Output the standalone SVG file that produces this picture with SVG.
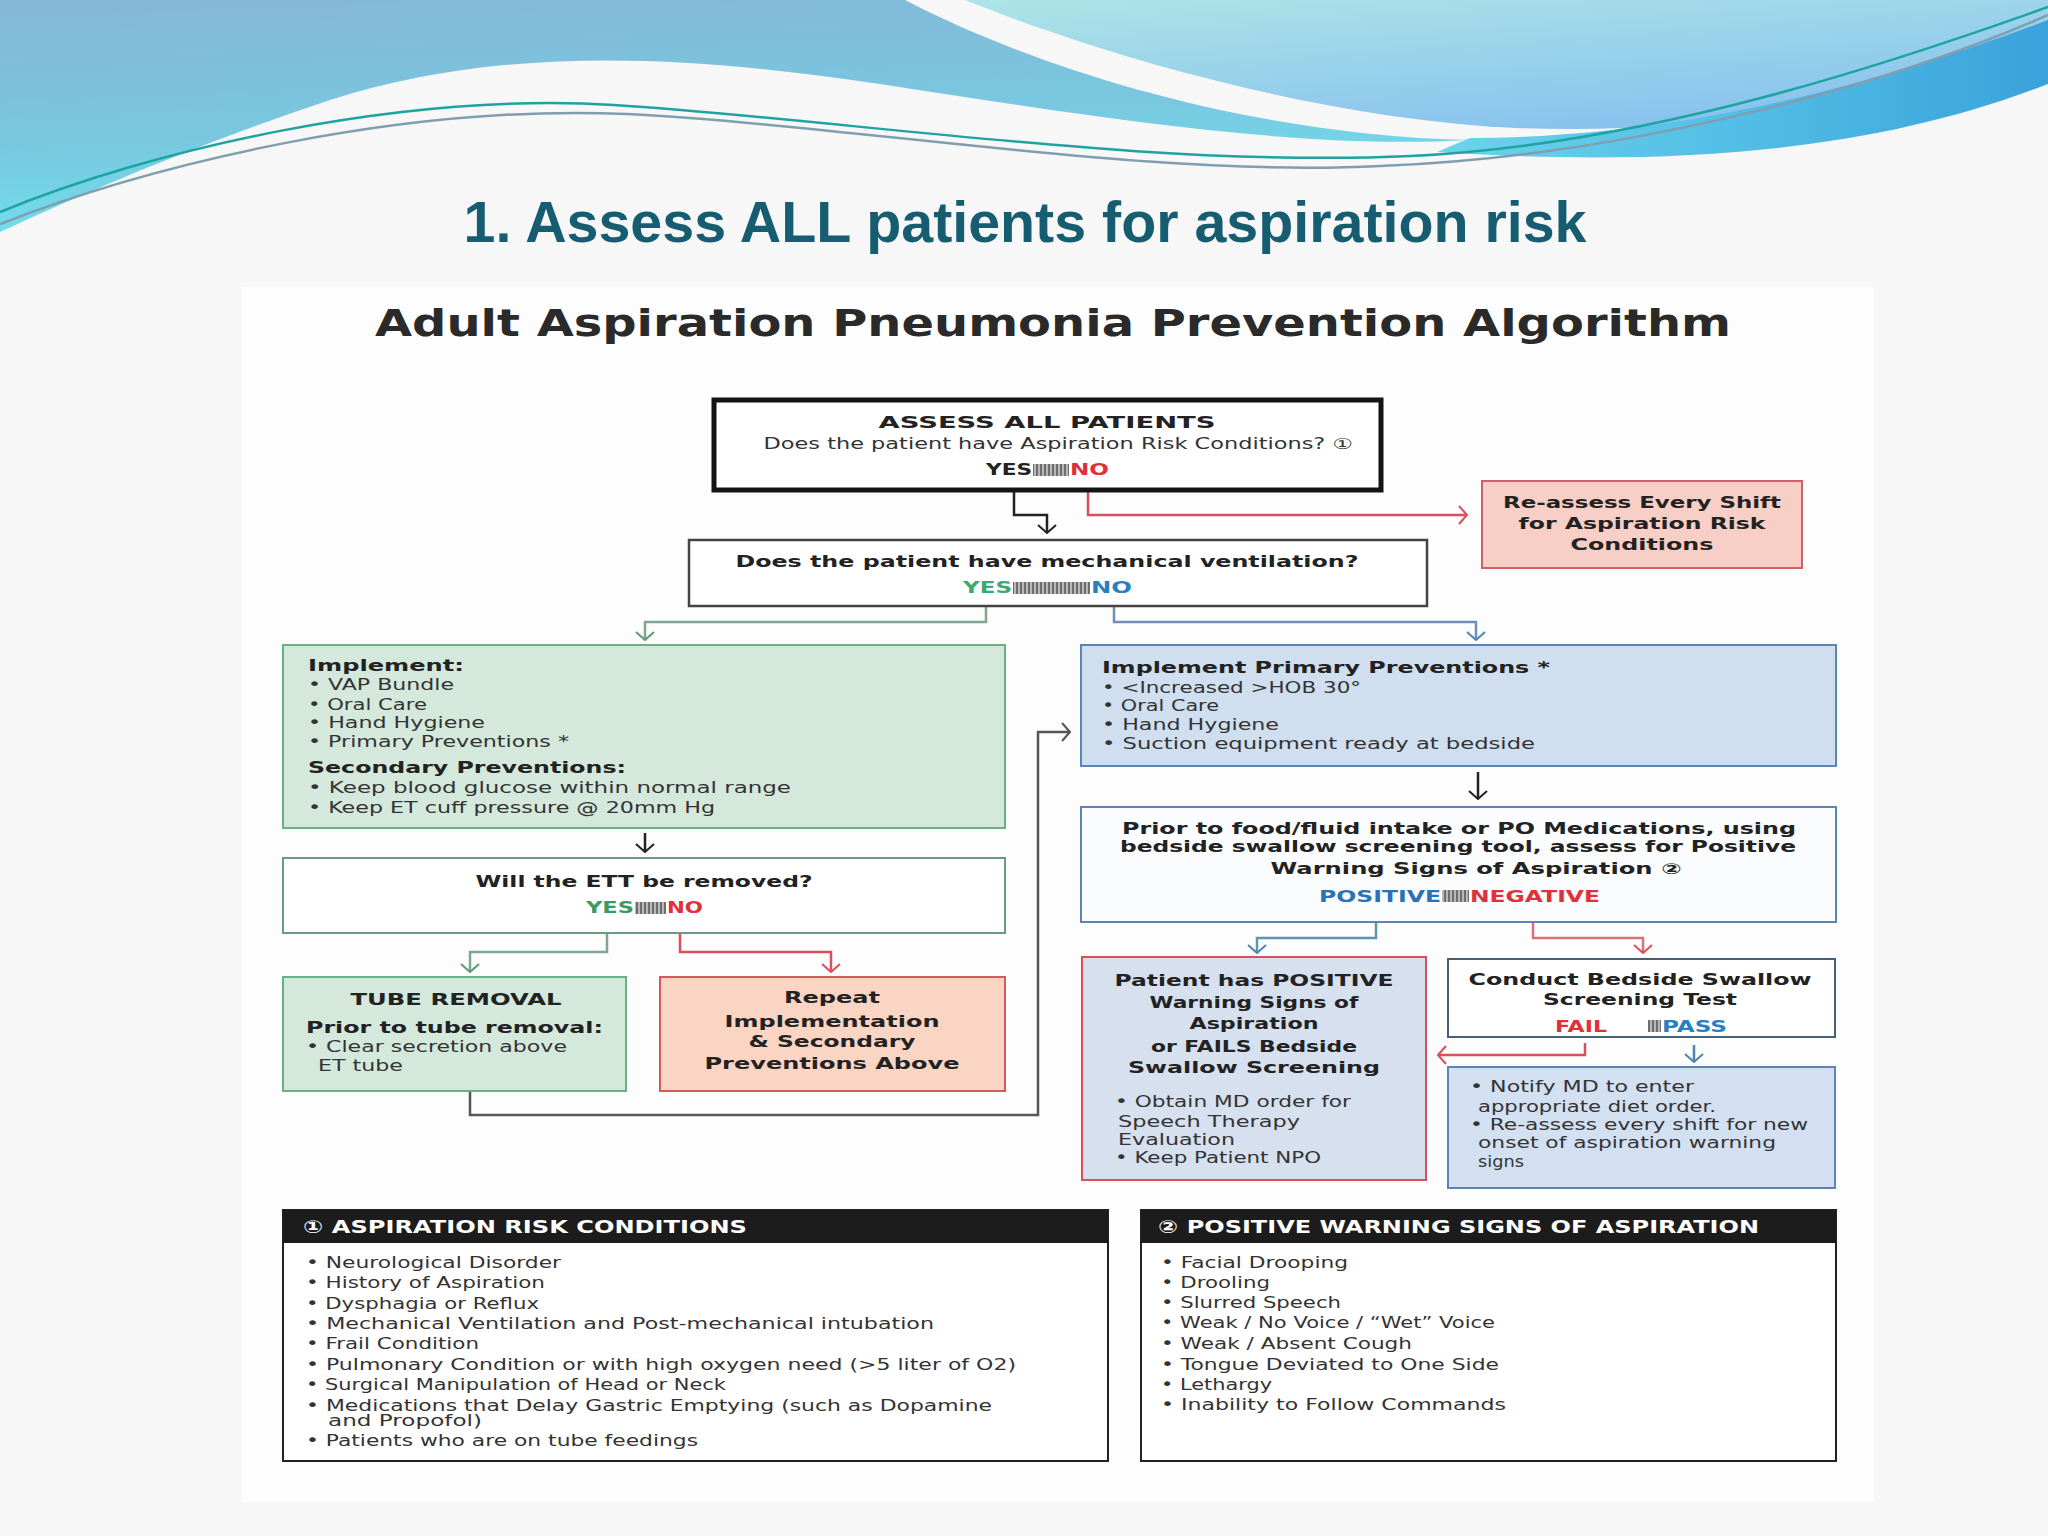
<svg xmlns="http://www.w3.org/2000/svg" width="2048" height="1536" viewBox="0 0 2048 1536">
<defs>
<style>
.t{font-family:"DejaVu Sans","Liberation Sans",sans-serif;font-size:15px;fill:#333333}
.b{font-weight:bold;fill:#222}
.m{text-anchor:middle}
.w{fill:#ffffff;font-weight:bold;font-size:18px}
.c{fill:none;stroke-width:2.5}
.g{fill:url(#stripes)}
</style>
<pattern id="stripes" patternUnits="userSpaceOnUse" width="4" height="12">
<rect x="0" y="0" width="4" height="12" fill="#b8b8b8"/><rect x="0" y="0" width="2" height="12" fill="#6e6e6e"/>
</pattern>
<linearGradient id="gA" x1="0" y1="0" x2="0.25" y2="1">
<stop offset="0" stop-color="#86b6d6"/><stop offset="0.6" stop-color="#78c8e0"/><stop offset="1" stop-color="#6fe0ee"/>
</linearGradient>
<linearGradient id="gB" x1="0" y1="0" x2="0.6" y2="1">
<stop offset="0" stop-color="#ade4e6"/><stop offset="1" stop-color="#88c2ee"/>
</linearGradient>
<linearGradient id="gC" x1="0" y1="0" x2="1" y2="0">
<stop offset="0" stop-color="#6cd3ea"/><stop offset="0.5" stop-color="#52bde6"/><stop offset="1" stop-color="#3aa2da"/>
</linearGradient>
<marker id="aK" markerUnits="userSpaceOnUse" viewBox="0 0 10 20" markerWidth="10" markerHeight="20" refX="9" refY="10" orient="auto"><path d="M1,1 L9,10 L1,19" fill="none" stroke="#222" stroke-width="2"/></marker>
<marker id="aG" markerUnits="userSpaceOnUse" viewBox="0 0 10 20" markerWidth="10" markerHeight="20" refX="9" refY="10" orient="auto"><path d="M1,1 L9,10 L1,19" fill="none" stroke="#5c9a78" stroke-width="2"/></marker>
<marker id="aB" markerUnits="userSpaceOnUse" viewBox="0 0 10 20" markerWidth="10" markerHeight="20" refX="9" refY="10" orient="auto"><path d="M1,1 L9,10 L1,19" fill="none" stroke="#4f86b0" stroke-width="2"/></marker>
<marker id="aR" markerUnits="userSpaceOnUse" viewBox="0 0 10 20" markerWidth="10" markerHeight="20" refX="9" refY="10" orient="auto"><path d="M1,1 L9,10 L1,19" fill="none" stroke="#d9505c" stroke-width="2"/></marker>
<marker id="aD" markerUnits="userSpaceOnUse" viewBox="0 0 10 20" markerWidth="10" markerHeight="20" refX="9" refY="10" orient="auto"><path d="M1,1 L9,10 L1,19" fill="none" stroke="#555" stroke-width="2"/></marker>
</defs>

<!-- background -->
<rect x="0" y="0" width="2048" height="1536" fill="#f7f7f7"/>
<rect x="242" y="287" width="1632" height="1215" fill="#fdfdfd"/>
<path d="M0,0 H905 C1040,70 1250,135 1470,140 C1300,150 1100,118 880,84 C680,54 500,46 330,100 C180,150 70,200 0,232 Z" fill="url(#gA)"/>
<path d="M965,0 H2048 V22 C1900,105 1720,135 1515,128 C1320,118 1110,58 965,0 Z" fill="url(#gB)"/>
<path d="M1470,138 C1700,138 1900,75 2048,20 V84 C1880,150 1680,168 1437,152 Z" fill="url(#gC)"/>
<path d="M0,212 C150,150 400,92 614,105 C850,120 1150,168 1411,156 C1650,145 1900,60 2048,7" fill="none" stroke="#1ea3a0" stroke-width="2.5"/>
<path d="M0,224 C150,165 400,104 627,114 C860,126 1150,178 1380,166 C1640,156 1900,80 2048,15" fill="none" stroke="#7f9eae" stroke-width="2.5"/>

<text x="1025" y="242" text-anchor="middle" font-family="'Liberation Sans','DejaVu Sans',sans-serif" font-weight="bold" font-size="58" fill="#175d71" textLength="1123" lengthAdjust="spacingAndGlyphs">1. Assess ALL patients for aspiration risk</text>
<text x="1053" y="336" text-anchor="middle" font-family="'DejaVu Sans','Liberation Sans',sans-serif" font-weight="bold" font-size="38" fill="#2a2a2a" textLength="1356" lengthAdjust="spacingAndGlyphs">Adult Aspiration Pneumonia Prevention Algorithm</text>

<!-- connectors -->
<g id="connectors">
<path class="c" d="M1014,492 V515 H1047 V533" stroke="#222" marker-end="url(#aK)"/>
<path class="c" d="M1088,492 V515 H1467" stroke="#d9505c" marker-end="url(#aR)"/>
<path class="c" d="M986,606 V622 H645 V640" stroke="#7fa690" marker-end="url(#aG)"/>
<path class="c" d="M1114,606 V622 H1476 V640" stroke="#6f90b2" marker-end="url(#aB)"/>
<path class="c" d="M645,833 V852" stroke="#222" marker-end="url(#aK)"/>
<path class="c" d="M607,933 V952 H470 V972" stroke="#7fa690" marker-end="url(#aG)"/>
<path class="c" d="M680,933 V952 H831 V972" stroke="#d9505c" marker-end="url(#aR)"/>
<path class="c" d="M470,1091 V1115 H1038 V732 H1070" stroke="#555" marker-end="url(#aD)"/>
<path class="c" d="M1478,772 V799" stroke="#222" marker-end="url(#aK)"/>
<path class="c" d="M1376,922 V938 H1257 V953" stroke="#5a98ae" marker-end="url(#aB)"/>
<path class="c" d="M1533,922 V938 H1643 V953" stroke="#e07078" marker-end="url(#aR)"/>
<path class="c" d="M1585,1043 V1055 H1438" stroke="#d9505c" marker-end="url(#aR)"/>
<path class="c" d="M1694,1045 V1062" stroke="#4f86b0" marker-end="url(#aB)"/>
</g>

<!-- Assess all -->
<g id="assess">
<rect x="714" y="400" width="667" height="90" fill="#ffffff" stroke="#141414" stroke-width="5"/>
<text class="t b m" x="1047" y="428" font-size="19" textLength="337" lengthAdjust="spacingAndGlyphs">ASSESS ALL PATIENTS</text>
<text class="t m" x="1058" y="449" textLength="589" lengthAdjust="spacingAndGlyphs">Does the patient have Aspiration Risk Conditions? ①</text>
<text class="t b" x="986" y="475" font-size="16" textLength="46" lengthAdjust="spacingAndGlyphs">YES</text>
<rect class="g" x="1033" y="464" width="36" height="12"/>
<text class="t b" x="1070" y="475" font-size="16" style="fill:#e0303c" textLength="39" lengthAdjust="spacingAndGlyphs">NO</text>
</g>

<g id="reassess">
<rect x="1482" y="481" width="320" height="87" fill="#f8cfc6" stroke="#d0606a" stroke-width="2"/>
<text class="t b m" x="1642" y="508" font-size="17" textLength="278" lengthAdjust="spacingAndGlyphs">Re-assess Every Shift</text>
<text class="t b m" x="1642" y="529" font-size="17" textLength="247" lengthAdjust="spacingAndGlyphs">for Aspiration Risk</text>
<text class="t b m" x="1642" y="550" font-size="17" textLength="143" lengthAdjust="spacingAndGlyphs">Conditions</text>
</g>

<g id="ventilation">
<rect x="689" y="540" width="738" height="66" fill="#ffffff" stroke="#444" stroke-width="2.5"/>
<text class="t b m" x="1047" y="567" font-size="18" textLength="623" lengthAdjust="spacingAndGlyphs">Does the patient have mechanical ventilation?</text>
<text class="t b" x="963" y="593" font-size="16" style="fill:#3aaa6e" textLength="49" lengthAdjust="spacingAndGlyphs">YES</text>
<rect class="g" x="1013" y="582" width="77" height="12"/>
<text class="t b" x="1091" y="593" font-size="16" style="fill:#2a7fc0" textLength="41" lengthAdjust="spacingAndGlyphs">NO</text>
</g>

<g id="implement-vent">
<rect x="283" y="645" width="722" height="183" fill="#d4e9dc" stroke="#6bb085" stroke-width="2"/>
<text class="t b" x="308" y="671" font-size="17" textLength="156" lengthAdjust="spacingAndGlyphs">Implement:</text>
<text class="t" x="308" y="690" textLength="146" lengthAdjust="spacingAndGlyphs">• VAP Bundle</text>
<text class="t" x="308" y="710" textLength="119" lengthAdjust="spacingAndGlyphs">• Oral Care</text>
<text class="t" x="308" y="728" textLength="177" lengthAdjust="spacingAndGlyphs">• Hand Hygiene</text>
<text class="t" x="308" y="747" textLength="261" lengthAdjust="spacingAndGlyphs">• Primary Preventions *</text>
<text class="t b" x="308" y="773" font-size="17" textLength="318" lengthAdjust="spacingAndGlyphs">Secondary Preventions:</text>
<text class="t" x="308" y="793" textLength="483" lengthAdjust="spacingAndGlyphs">• Keep blood glucose within normal range</text>
<text class="t" x="308" y="813" textLength="407" lengthAdjust="spacingAndGlyphs">• Keep ET cuff pressure @ 20mm Hg</text>
</g>

<g id="ett">
<rect x="283" y="858" width="722" height="75" fill="#ffffff" stroke="#6a9a80" stroke-width="2"/>
<text class="t b m" x="644" y="887" font-size="17" textLength="337" lengthAdjust="spacingAndGlyphs">Will the ETT be removed?</text>
<text class="t b" x="586" y="913" font-size="16" style="fill:#3a9a60" textLength="48" lengthAdjust="spacingAndGlyphs">YES</text>
<rect class="g" x="635" y="902" width="31" height="12"/>
<text class="t b" x="667" y="913" font-size="16" style="fill:#e0303c" textLength="36" lengthAdjust="spacingAndGlyphs">NO</text>
</g>

<g id="tube-removal">
<rect x="283" y="977" width="343" height="114" fill="#d4e9dc" stroke="#6bb085" stroke-width="2"/>
<text class="t b m" x="456" y="1005" font-size="17" textLength="211" lengthAdjust="spacingAndGlyphs">TUBE REMOVAL</text>
<text class="t b" x="306" y="1033" font-size="17" textLength="297" lengthAdjust="spacingAndGlyphs">Prior to tube removal:</text>
<text class="t" x="306" y="1052" textLength="261" lengthAdjust="spacingAndGlyphs">• Clear secretion above</text>
<text class="t" x="318" y="1071" textLength="85" lengthAdjust="spacingAndGlyphs">ET tube</text>
</g>

<g id="repeat">
<rect x="660" y="977" width="345" height="114" fill="#fbd5c4" stroke="#d75a5a" stroke-width="2"/>
<text class="t b m" x="832" y="1003" font-size="17" textLength="96" lengthAdjust="spacingAndGlyphs">Repeat</text>
<text class="t b m" x="832" y="1027" font-size="17" textLength="215" lengthAdjust="spacingAndGlyphs">Implementation</text>
<text class="t b m" x="832" y="1047" font-size="17" textLength="167" lengthAdjust="spacingAndGlyphs">&amp; Secondary</text>
<text class="t b m" x="832" y="1069" font-size="17" textLength="255" lengthAdjust="spacingAndGlyphs">Preventions Above</text>
</g>

<g id="primary">
<rect x="1081" y="645" width="755" height="121" fill="#d0dff0" stroke="#5a85b5" stroke-width="2"/>
<text class="t b" x="1102" y="673" font-size="17" textLength="448" lengthAdjust="spacingAndGlyphs">Implement Primary Preventions *</text>
<text class="t" x="1102" y="693" textLength="259" lengthAdjust="spacingAndGlyphs">• &lt;Increased &gt;HOB 30°</text>
<text class="t" x="1102" y="711" textLength="117" lengthAdjust="spacingAndGlyphs">• Oral Care</text>
<text class="t" x="1102" y="730" textLength="177" lengthAdjust="spacingAndGlyphs">• Hand Hygiene</text>
<text class="t" x="1102" y="749" textLength="433" lengthAdjust="spacingAndGlyphs">• Suction equipment ready at bedside</text>
</g>

<g id="prior-food">
<rect x="1081" y="807" width="755" height="115" fill="#fafcfe" stroke="#5a85b5" stroke-width="2"/>
<text class="t b m" x="1459" y="834" font-size="17" textLength="674" lengthAdjust="spacingAndGlyphs">Prior to food/fluid intake or PO Medications, using</text>
<text class="t b m" x="1458" y="852" font-size="17" textLength="676" lengthAdjust="spacingAndGlyphs">bedside swallow screening tool, assess for Positive</text>
<text class="t b m" x="1476" y="874" font-size="17" textLength="411" lengthAdjust="spacingAndGlyphs">Warning Signs of Aspiration ②</text>
<text class="t b" x="1319" y="902" font-size="17" style="fill:#2a72b5" textLength="122" lengthAdjust="spacingAndGlyphs">POSITIVE</text>
<rect class="g" x="1442" y="890" width="27" height="12"/>
<text class="t b" x="1470" y="902" font-size="17" style="fill:#e0303c" textLength="130" lengthAdjust="spacingAndGlyphs">NEGATIVE</text>
</g>

<g id="positive">
<rect x="1082" y="957" width="344" height="223" fill="#d6e0ee" stroke="#d8505a" stroke-width="2"/>
<text class="t b m" x="1254" y="986" font-size="17" textLength="279" lengthAdjust="spacingAndGlyphs">Patient has POSITIVE</text>
<text class="t b m" x="1254" y="1008" font-size="17" textLength="209" lengthAdjust="spacingAndGlyphs">Warning Signs of</text>
<text class="t b m" x="1254" y="1029" font-size="17" textLength="129" lengthAdjust="spacingAndGlyphs">Aspiration</text>
<text class="t b m" x="1254" y="1052" font-size="17" textLength="206" lengthAdjust="spacingAndGlyphs">or FAILS Bedside</text>
<text class="t b m" x="1254" y="1073" font-size="17" textLength="252" lengthAdjust="spacingAndGlyphs">Swallow Screening</text>
<text class="t" x="1115" y="1107" textLength="236" lengthAdjust="spacingAndGlyphs">• Obtain MD order for</text>
<text class="t" x="1118" y="1127" textLength="182" lengthAdjust="spacingAndGlyphs">Speech Therapy</text>
<text class="t" x="1118" y="1145" textLength="117" lengthAdjust="spacingAndGlyphs">Evaluation</text>
<text class="t" x="1115" y="1163" textLength="206" lengthAdjust="spacingAndGlyphs">• Keep Patient NPO</text>
</g>

<g id="conduct">
<rect x="1448" y="959" width="387" height="78" fill="#ffffff" stroke="#46607a" stroke-width="2"/>
<text class="t b m" x="1640" y="985" font-size="17" textLength="343" lengthAdjust="spacingAndGlyphs">Conduct Bedside Swallow</text>
<text class="t b m" x="1640" y="1005" font-size="17" textLength="194" lengthAdjust="spacingAndGlyphs">Screening Test</text>
<text class="t b" x="1555" y="1032" font-size="17" style="fill:#e0303c" textLength="52" lengthAdjust="spacingAndGlyphs">FAIL</text>
<rect class="g" x="1648" y="1020" width="13" height="12"/>
<text class="t b" x="1662" y="1032" font-size="17" style="fill:#2a7fc0" textLength="65" lengthAdjust="spacingAndGlyphs">PASS</text>
</g>

<g id="notify">
<rect x="1448" y="1067" width="387" height="121" fill="#d3e0f2" stroke="#5a85b5" stroke-width="2"/>
<text class="t" x="1470" y="1092" textLength="224" lengthAdjust="spacingAndGlyphs">• Notify MD to enter</text>
<text class="t" x="1478" y="1112" textLength="238" lengthAdjust="spacingAndGlyphs">appropriate diet order.</text>
<text class="t" x="1470" y="1130" textLength="338" lengthAdjust="spacingAndGlyphs">• Re-assess every shift for new</text>
<text class="t" x="1478" y="1148" textLength="298" lengthAdjust="spacingAndGlyphs">onset of aspiration warning</text>
<text class="t" x="1478" y="1167" textLength="46" lengthAdjust="spacingAndGlyphs">signs</text>
</g>

<g id="risk-conditions">
<rect x="283" y="1210" width="825" height="251" fill="#ffffff" stroke="#222" stroke-width="2"/>
<rect x="283" y="1210" width="825" height="33" fill="#1c1c1c"/>
<text class="t w" x="303" y="1233" textLength="444" lengthAdjust="spacingAndGlyphs">① ASPIRATION RISK CONDITIONS</text>
<text class="t" x="306" y="1268" textLength="255" lengthAdjust="spacingAndGlyphs">• Neurological Disorder</text>
<text class="t" x="306" y="1288" textLength="239" lengthAdjust="spacingAndGlyphs">• History of Aspiration</text>
<text class="t" x="306" y="1309" textLength="233" lengthAdjust="spacingAndGlyphs">• Dysphagia or Reflux</text>
<text class="t" x="306" y="1329" textLength="628" lengthAdjust="spacingAndGlyphs">• Mechanical Ventilation and Post-mechanical intubation</text>
<text class="t" x="306" y="1349" textLength="173" lengthAdjust="spacingAndGlyphs">• Frail Condition</text>
<text class="t" x="306" y="1370" textLength="710" lengthAdjust="spacingAndGlyphs">• Pulmonary Condition or with high oxygen need (&gt;5 liter of O2)</text>
<text class="t" x="306" y="1390" textLength="420" lengthAdjust="spacingAndGlyphs">• Surgical Manipulation of Head or Neck</text>
<text class="t" x="306" y="1411" textLength="686" lengthAdjust="spacingAndGlyphs">• Medications that Delay Gastric Emptying (such as Dopamine</text>
<text class="t" x="328" y="1426" textLength="154" lengthAdjust="spacingAndGlyphs">and Propofol)</text>
<text class="t" x="306" y="1446" textLength="392" lengthAdjust="spacingAndGlyphs">• Patients who are on tube feedings</text>
</g>

<g id="warning-signs">
<rect x="1141" y="1210" width="695" height="251" fill="#ffffff" stroke="#222" stroke-width="2"/>
<rect x="1141" y="1210" width="695" height="33" fill="#1c1c1c"/>
<text class="t w" x="1158" y="1233" textLength="601" lengthAdjust="spacingAndGlyphs">② POSITIVE WARNING SIGNS OF ASPIRATION</text>
<text class="t" x="1161" y="1268" textLength="187" lengthAdjust="spacingAndGlyphs">• Facial Drooping</text>
<text class="t" x="1161" y="1288" textLength="109" lengthAdjust="spacingAndGlyphs">• Drooling</text>
<text class="t" x="1161" y="1308" textLength="180" lengthAdjust="spacingAndGlyphs">• Slurred Speech</text>
<text class="t" x="1161" y="1328" textLength="334" lengthAdjust="spacingAndGlyphs">• Weak / No Voice / “Wet” Voice</text>
<text class="t" x="1161" y="1349" textLength="251" lengthAdjust="spacingAndGlyphs">• Weak / Absent Cough</text>
<text class="t" x="1161" y="1370" textLength="338" lengthAdjust="spacingAndGlyphs">• Tongue Deviated to One Side</text>
<text class="t" x="1161" y="1390" textLength="111" lengthAdjust="spacingAndGlyphs">• Lethargy</text>
<text class="t" x="1161" y="1410" textLength="345" lengthAdjust="spacingAndGlyphs">• Inability to Follow Commands</text>
</g>
</svg>
